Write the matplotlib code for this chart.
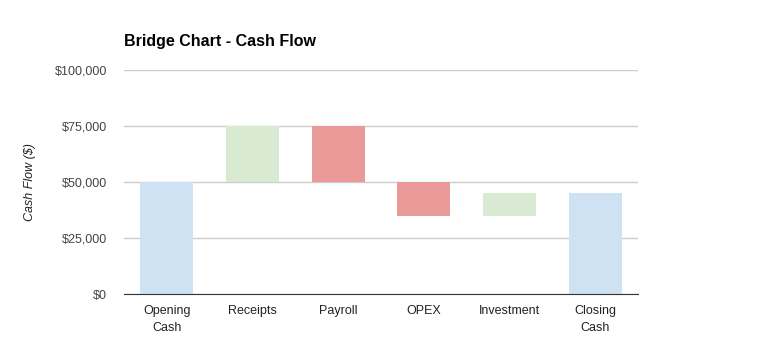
import matplotlib
matplotlib.use('Agg')
import matplotlib.pyplot as plt
from matplotlib.ticker import FuncFormatter

plt.rcParams['font.family'] = ['Liberation Sans', 'DejaVu Sans']

# data
categories = ['Opening\nCash', 'Receipts', 'Payroll', 'OPEX', 'Investment', 'Closing\nCash']
bottoms = [0, 50000, 50000, 35000, 35000, 0]
heights = [50000, 25000, 25000, 15000, 10000, 45000]
kinds = ['total', 'up', 'down', 'down', 'up', 'total']
colors = {'total': '#cfe2f3', 'up': '#d9ead3', 'down': '#ea9999'}
yticks = [0, 25000, 50000, 75000, 100000]

fig = plt.figure(figsize=(7.63, 3.64), dpi=100)
ax = fig.add_axes([0.1625, 0.1923, 0.6737, 0.6154])

x = range(len(categories))
ax.bar(x, heights, bottom=bottoms, width=0.62,
       color=[colors[k] for k in kinds], zorder=2)

ax.set_xlim(-0.5, len(categories) - 0.5)
ax.set_ylim(0, 100000)
ax.set_yticks(yticks)
ax.yaxis.set_major_formatter(FuncFormatter(lambda v, p: '${:,.0f}'.format(v)))
ax.set_xticks(list(x))
ax.set_xticklabels(categories, linespacing=1.55)
ax.grid(axis='y', color='#cccccc', linewidth=1, zorder=0)

for s in ['top', 'right', 'left']:
    ax.spines[s].set_visible(False)
ax.spines['bottom'].set_color('#333333')
ax.spines['bottom'].set_zorder(3)
ax.tick_params(axis='both', length=0, labelsize=9, colors='#444444')
ax.tick_params(axis='x', pad=8, labelcolor='#222222')
ax.tick_params(axis='y', pad=12)

ax.set_ylabel('Cash Flow ($)', fontstyle='italic', fontsize=9, color='#222222', labelpad=14)
fig.text(0.1625, 0.885, 'Bridge Chart - Cash Flow', fontsize=11.5, fontweight='bold',
         color='#000000', ha='left', va='center')

fig.savefig('out.png', dpi=100)
